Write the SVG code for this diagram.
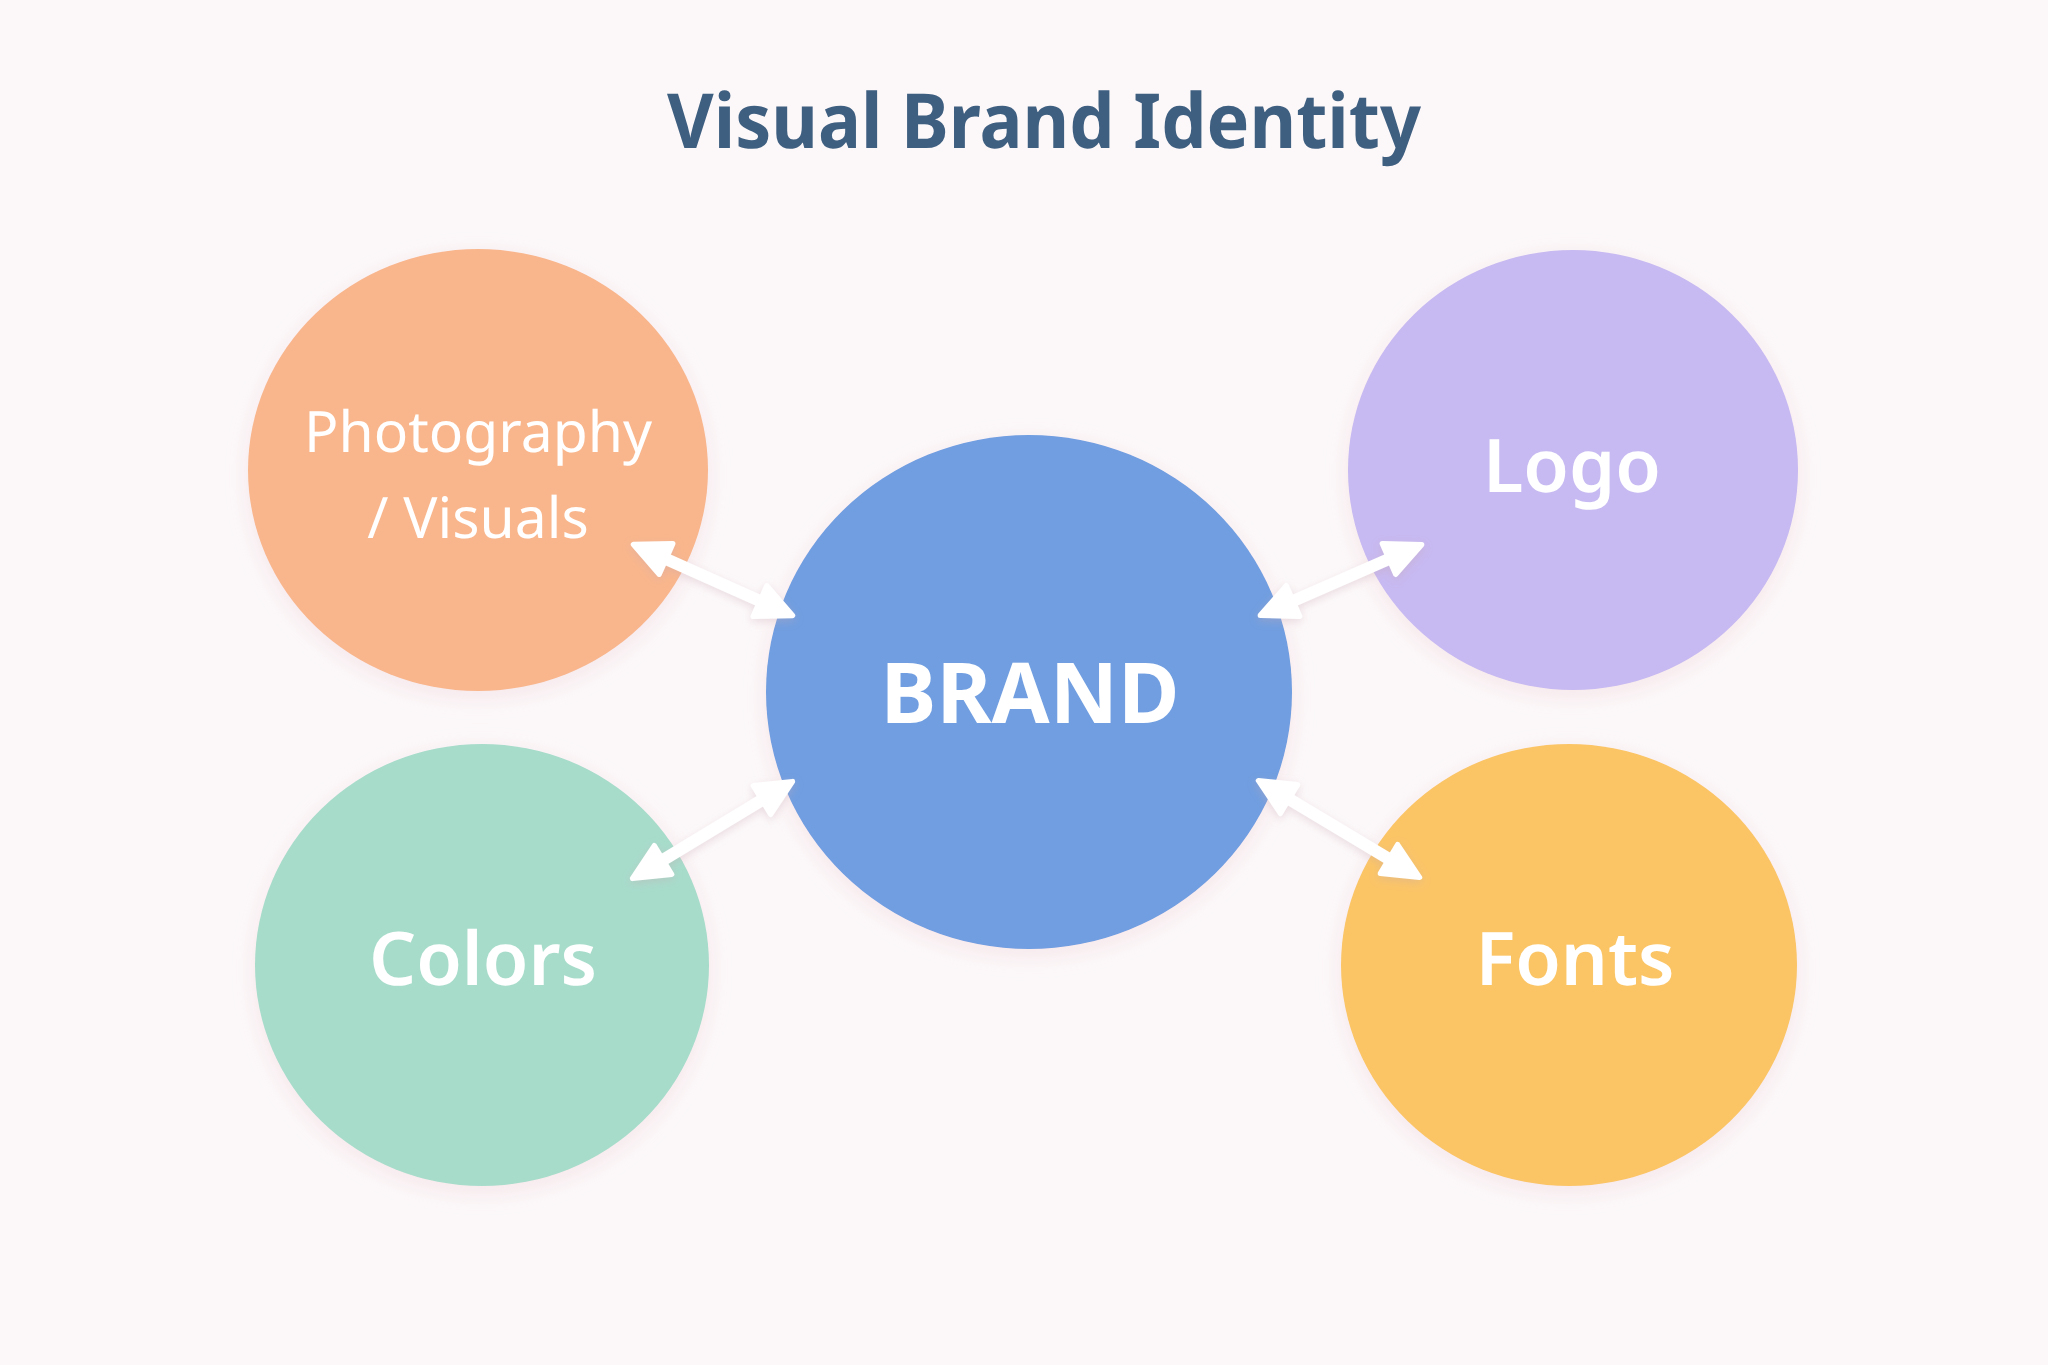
<svg xmlns="http://www.w3.org/2000/svg" width="2048" height="1365" viewBox="0 0 2048 1365" text-rendering="geometricPrecision">
  <defs>
    <marker id="ah" viewBox="0 0 40 40" refX="3" refY="20" markerWidth="42" markerHeight="42" orient="auto-start-reverse" markerUnits="userSpaceOnUse">
      <path d="M3,4 L37,20 L3,36 Z" fill="#ffffff" stroke="#ffffff" stroke-width="5" stroke-linejoin="round"/>
    </marker>
    <filter id="sh" x="-20%" y="-20%" width="140%" height="140%">
      <feDropShadow dx="0" dy="6" stdDeviation="12" flood-color="#e8c4cc" flood-opacity="0.35"/>
    </filter>
    <filter id="csh" x="-30%" y="-30%" width="160%" height="160%">
      <feDropShadow dx="0" dy="3" stdDeviation="4" flood-color="#c9a9b2" flood-opacity="0.35"/>
    </filter>
  </defs>
  <style>
    .lbl { font-family: "Noto Sans", "Open Sans", "Liberation Sans", sans-serif; fill: #ffffff; text-anchor: middle; }
    .conn { stroke: #ffffff; stroke-width: 12; stroke-linecap: butt; fill: none; }
  </style>
  <rect x="0" y="0" width="2048" height="1365" fill="#fcf8f9"/>
  <text x="1044" y="148" font-family="'Noto Sans', 'Open Sans', 'Liberation Sans', sans-serif" font-size="76" font-weight="700" fill="#3f5f80" text-anchor="middle" textLength="754" lengthAdjust="spacingAndGlyphs">Visual Brand Identity</text>

  <g id="node-photography">
    <ellipse cx="478" cy="470" rx="230" ry="221" fill="#f9b68c" filter="url(#sh)"/>
    <text class="lbl" x="478" y="452" font-size="57" font-weight="400">Photography</text>
    <text class="lbl" x="478" y="538" font-size="57" font-weight="400">/ Visuals</text>
  </g>
  <g id="node-logo">
    <ellipse cx="1573" cy="470" rx="225" ry="220" fill="#c7b9f1" filter="url(#sh)"/>
    <text class="lbl" x="1572" y="492" font-size="74" font-weight="600">Logo</text>
  </g>
  <g id="node-colors">
    <ellipse cx="482" cy="965" rx="227" ry="221" fill="#a7dccb" filter="url(#sh)"/>
    <text class="lbl" x="483" y="985" font-size="74" font-weight="600">Colors</text>
  </g>
  <g id="node-fonts">
    <ellipse cx="1569" cy="965" rx="228" ry="221" fill="#fbc566" filter="url(#sh)"/>
    <text class="lbl" x="1575" y="985" font-size="74" font-weight="600">Fonts</text>
  </g>
  <g id="node-brand">
    <ellipse cx="1029" cy="692" rx="263" ry="257" fill="#6f9ee0" filter="url(#sh)"/>
    <text class="lbl" x="1030" y="723" font-size="84" font-weight="700">BRAND</text>
  </g>

  <g id="connectors" filter="url(#csh)">
    <line class="conn" x1="666" y1="559" x2="760" y2="601" marker-start="url(#ah)" marker-end="url(#ah)"/>
    <line class="conn" x1="762" y1="800" x2="663" y2="860" marker-start="url(#ah)" marker-end="url(#ah)"/>
    <line class="conn" x1="1293" y1="601" x2="1389" y2="559" marker-start="url(#ah)" marker-end="url(#ah)"/>
    <line class="conn" x1="1289" y1="799" x2="1389" y2="859" marker-start="url(#ah)" marker-end="url(#ah)"/>
  </g>
</svg>
